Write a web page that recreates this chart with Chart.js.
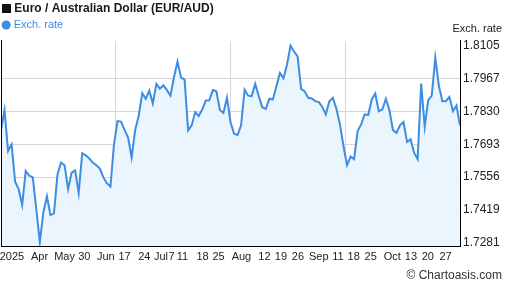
<!DOCTYPE html>
<html><head><meta charset="utf-8">
<script src="https://cdn.jsdelivr.net/npm/chart.js@4.4.1/dist/chart.umd.min.js"></script>
<style>html,body{margin:0;padding:0;background:#fff;}#wrap{width:507px;height:288px;}</style>
</head><body><div id="wrap"><canvas id="c" width="507" height="288"></canvas></div>
<script>
const chartTitle = 'Euro / Australian Dollar (EUR/AUD)';
const seriesName = 'Exch. rate';
const axisName = 'Exch. rate';
const credit = '\u00A9 Chartoasis.com';

const rates = [
1.7751,1.7836,1.7665,1.7693,1.7537,1.7506,1.7440,1.7582,1.7562,1.7555,
1.7423,1.7285,1.7409,1.7476,1.7398,1.7405,1.7568,1.7617,1.7606,1.7506,
1.7575,1.7584,1.7490,1.7656,1.7647,1.7634,
1.7617,1.7606,1.7592,1.7555,1.7531,1.7517,1.7693,1.7790,1.7788,1.7753,
1.7721,1.7638,1.7753,1.7811,1.7907,1.7883,1.7917,1.7863,1.7945,1.7925,
1.7939,1.7919,1.7896,1.7974,1.8038,1.7971,
1.7963,1.7751,1.7772,1.7827,1.7811,1.7838,1.7876,1.7877,1.7919,1.7914,
1.7836,1.7824,1.7888,1.7786,1.7737,1.7732,1.7772,1.7921,1.7896,1.7894,
1.7945,1.7894,1.7848,1.7841,1.7883,1.7880,
1.7935,1.7991,1.7968,1.8025,1.8104,1.8080,1.8060,1.7924,1.7914,1.7887,
1.7884,1.7873,1.7869,1.7849,1.7818,1.7873,1.7887,1.7841,1.7776,1.7686,
1.7606,1.7642,1.7631,1.7748,1.7776,1.7818,1.7815,
1.7880,1.7905,1.7831,1.7838,1.7883,1.7836,1.7753,1.7741,1.7772,1.7786,
1.7703,1.7714,1.7658,1.7631,1.7946,1.7766,1.7877,1.7896,1.8054,1.7938,
1.7873,1.7873,1.7891,1.7831,1.7855,1.7772
];

const xTickLabels = ['2025','Apr','May','30','Jun','17','24','Jul','7','11','18','25','Aug','12','19','26','Sep','11','18','25','Oct','13','20','27'];
const xTickIndex  = [3.1,10.9,18.0,23.6,29.7,35.0,40.6,45.3,48.3,51.4,57.1,61.6,68.1,74.6,79.3,84.1,90.0,95.4,99.9,104.7,110.8,116.1,120.9,125.9];
const xGridIndex  = [32.5,65,97.5];
const yTickLabels = ['1.7281','1.7419','1.7556','1.7693','1.7830','1.7967','1.8105'];
const yGridLabels = ['1.7556','1.7693','1.7830','1.7967'];
const yMin = 1.7269, yMax = 1.8126;

const lineColor = '#3d8de3';
const fillColor = '#ebf5fe';
const gridColor = '#d6d6d6';
const FONT = "'Liberation Sans', Arial, sans-serif";

const points = rates.map((v, i) => ({x: i, y: v}));
const lastIndex = rates.length - 1;

const extras = {
  id: 'extras',
  afterDraw(chart) {
    const ctx = chart.ctx;
    ctx.save();
    ctx.fillStyle = '#111';
    ctx.fillRect(2, 4, 9, 9);
    ctx.font = '11px ' + FONT;
    ctx.fillStyle = '#222';
    ctx.textAlign = 'right';
    ctx.textBaseline = 'middle';
    ctx.fillText(axisName, 502, 28.5);
    ctx.restore();
  }
};

new Chart(document.getElementById('c'), {
  type: 'line',
  data: {
    datasets: [{
      label: seriesName,
      data: points,
      borderColor: lineColor,
      backgroundColor: fillColor,
      borderWidth: 2,
      pointRadius: 0,
      tension: 0,
      fill: 'start',
      xAxisID: 'x',
      yAxisID: 'y'
    }]
  },
  options: {
    responsive: false,
    animation: false,
    devicePixelRatio: 1,
    layout: {padding: {left: 1, right: 5, top: 0, bottom: 0}},
    plugins: {
      title: {
        display: true,
        text: '    ' + chartTitle,
        align: 'start',
        color: '#1a1a1a',
        font: {family: FONT, size: 12, weight: 'bold', lineHeight: 1},
        padding: {top: 2.5, bottom: 1.8}
      },
      subtitle: {
        display: true,
        text: credit,
        position: 'bottom',
        align: 'end',
        color: '#333',
        font: {family: FONT, size: 12, weight: 'normal', lineHeight: 1},
        padding: {top: 6.3, bottom: 6.5}
      },
      legend: {
        display: true,
        align: 'start',
        labels: {
          usePointStyle: true,
          boxWidth: 4,
          boxHeight: 6.4,
          padding: 3.2,
          color: lineColor,
          font: {family: FONT, size: 11},
          generateLabels: () => [{text: seriesName, fillStyle: lineColor, strokeStyle: lineColor, lineWidth: 0, pointStyle: 'circle', hidden: false, datasetIndex: 0, fontColor: lineColor}]
        }
      },
      tooltip: {enabled: false}
    },
    scales: {
      x: {
        type: 'linear',
        position: 'bottom',
        min: 0, max: lastIndex,
        afterBuildTicks: s => { s.ticks = xTickIndex.map(v => ({value: v})); },
        afterFit: s => { s.paddingLeft = 0; s.paddingRight = 0; s.height = 17.2; },
        ticks: {
          autoSkip: false, maxRotation: 0, minRotation: 0, padding: 4,
          color: '#222', font: {family: FONT, size: 11},
          callback: (v, i) => xTickLabels[i]
        },
        grid: {display: false, drawTicks: false},
        border: {display: true, color: '#000', width: 1, z: 1}
      },
      x2: {
        type: 'linear',
        position: 'top',
        min: 0, max: lastIndex,
        afterBuildTicks: s => { s.ticks = xGridIndex.map(v => ({value: v})); },
        ticks: {display: false},
        grid: {display: true, color: gridColor, drawTicks: false, lineWidth: 1},
        border: {display: false}
      },
      yg: {
        type: 'linear',
        position: 'left',
        min: yMin, max: yMax,
        afterBuildTicks: s => { s.ticks = yGridLabels.map(t => ({value: parseFloat(t)})); },
        ticks: {display: false},
        grid: {display: true, color: gridColor, drawTicks: false, lineWidth: 1},
        border: {display: false}
      },
      yl: {
        type: 'linear',
        position: 'left',
        min: yMin, max: yMax,
        ticks: {display: false},
        grid: {display: false, drawTicks: false},
        border: {display: true, color: '#000', width: 1, z: 1}
      },
      y: {
        type: 'linear',
        position: 'right',
        min: yMin, max: yMax,
        afterBuildTicks: s => { s.ticks = yTickLabels.map(t => ({value: parseFloat(t)})); },
        afterFit: s => { s.width = 42; },
        ticks: {
          padding: 3, color: '#222', font: {family: FONT, size: 12},
          callback: (v, i) => yTickLabels[i]
        },
        grid: {display: false, drawTicks: false},
        border: {display: true, color: '#000', width: 1, z: 1}
      }
    }
  },
  plugins: [extras]
});
</script>
</body></html>
